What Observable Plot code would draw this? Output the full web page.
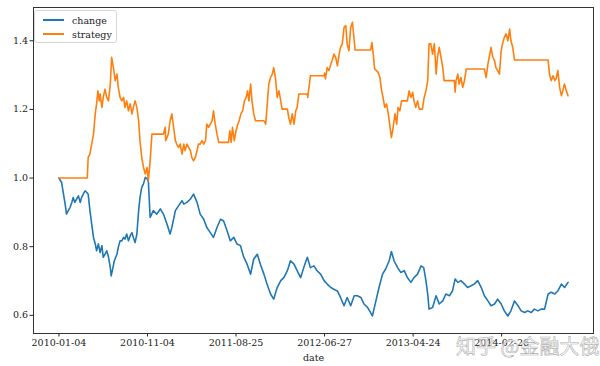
<!DOCTYPE html>
<html>
<head>
<meta charset="utf-8">
<script src="https://cdn.jsdelivr.net/npm/d3@7"></script>
<script src="https://cdn.jsdelivr.net/npm/@observablehq/plot@0.6"></script>
<style>
  html, body { margin: 0; padding: 0; background: #fff; }
  #wrap { position: relative; width: 600px; height: 366px; overflow: hidden; }
  #legend { position: absolute; left: 34px; top: 10px; width: 81px; height: 31px;
    border: 1px solid #d6d6d6; border-radius: 3px; background: rgba(255,255,255,0.8);
    font-family: "DejaVu Serif", serif; font-size: 9.5px; color: #222; }
  #legend .row { position: absolute; left: 8px; height: 12px; display: flex; align-items: center; }
  #legend .sw { width: 21px; height: 1.5px; margin-right: 8px; }
  #wm { position: absolute; left: 456px; top: 331px; font-family: "Noto Sans CJK SC", sans-serif;
    font-size: 20px; color: rgba(255,255,255,0.75); -webkit-text-stroke: 0.6px #b0b0b0; letter-spacing: 0px; }
</style>
</head>
<body>
<div id="wrap">
  <div id="chart"></div>
  <div id="legend"></div>
  <div id="wm">知乎 @金融大俄</div>
</div>
<script>
// series names and colours
const seriesNames = ["change", "strategy"];
const seriesColors = ["#1f77b4", "#ff7f0e"];

// x tick positions (row index) and their date labels
const tickIndex = [0, 200, 400, 600, 800, 1000];
const tickLabels = ["2010-01-04", "2010-11-04", "2011-08-25", "2012-06-27", "2013-04-24", "2014-02-26"];

// change: row index and value
const changeIdx = [0,6,14,17,21,25,29,32,36,40,44,48,51,55,59,63,66,70,74,78,82,85,89,93,97,100,104,108,112,116,118,122,125,131,134,138,142,146,149,153,157,161,165,168,172,176,180,183,187,191,195,199,202,206,213,221,229,236,244,251,255,263,270,278,282,289,297,304,312,319,327,334,342,349,357,365,372,380,387,395,402,410,417,425,433,440,448,455,463,470,478,485,493,501,508,516,523,531,538,546,553,561,568,576,583,591,599,606,614,621,629,636,644,651,659,667,674,682,689,697,704,708,716,723,731,738,746,751,757,765,772,780,787,795,802,810,818,824,829,833,836,844,852,859,867,874,882,889,895,901,908,916,923,931,938,946,954,961,969,976,984,991,999,1006,1014,1021,1029,1037,1044,1052,1059,1067,1074,1082,1089,1097,1105,1112,1120,1127,1135,1142,1150];
const changeVal = [1.0,0.987,0.924,0.895,0.905,0.914,0.929,0.943,0.929,0.939,0.948,0.929,0.943,0.953,0.963,0.958,0.953,0.905,0.866,0.827,0.808,0.788,0.808,0.783,0.803,0.769,0.778,0.788,0.769,0.739,0.715,0.739,0.759,0.778,0.798,0.817,0.817,0.827,0.822,0.837,0.817,0.832,0.841,0.827,0.812,0.837,0.905,0.943,0.973,0.983,1.002,0.998,0.99,0.885,0.905,0.895,0.910,0.895,0.866,0.837,0.856,0.905,0.919,0.934,0.924,0.929,0.939,0.953,0.929,0.895,0.880,0.856,0.841,0.827,0.856,0.880,0.875,0.846,0.817,0.827,0.808,0.803,0.771,0.749,0.720,0.764,0.778,0.749,0.720,0.691,0.662,0.647,0.681,0.701,0.710,0.730,0.759,0.749,0.730,0.710,0.739,0.769,0.739,0.744,0.730,0.720,0.701,0.691,0.681,0.676,0.671,0.652,0.628,0.652,0.628,0.657,0.657,0.652,0.633,0.623,0.608,0.598,0.642,0.681,0.720,0.735,0.759,0.786,0.759,0.739,0.725,0.730,0.710,0.696,0.710,0.720,0.744,0.739,0.701,0.662,0.618,0.623,0.657,0.633,0.642,0.662,0.657,0.671,0.706,0.696,0.701,0.691,0.681,0.686,0.691,0.701,0.681,0.657,0.642,0.628,0.633,0.647,0.633,0.613,0.598,0.613,0.642,0.628,0.613,0.608,0.613,0.608,0.618,0.613,0.618,0.618,0.662,0.667,0.662,0.671,0.691,0.681,0.696];

// strategy: row index and value
const strategyIdx = [0,64,66,70,74,78,82,85,88,91,93,97,100,104,108,112,116,119,123,127,131,134,138,142,146,149,153,157,161,165,168,172,176,180,183,187,191,195,199,202,206,210,236,240,241,247,251,255,259,263,266,270,274,278,282,285,289,293,297,300,304,308,312,315,319,323,327,331,334,338,342,346,349,353,357,361,383,386,389,392,396,400,404,407,411,415,419,423,426,429,433,436,440,444,463,467,470,474,478,482,485,489,493,497,501,504,516,519,523,527,531,535,538,542,561,562,568,599,600,602,606,610,614,617,621,625,629,633,636,640,644,648,651,655,659,663,667,669,704,707,710,713,717,721,725,729,732,736,740,744,747,751,755,759,763,766,770,774,787,791,795,799,802,806,810,814,821,825,829,833,836,840,844,848,852,855,859,863,867,870,893,895,897,901,904,908,912,916,920,961,965,969,972,976,980,984,987,991,995,999,1002,1006,1010,1014,1018,1021,1025,1029,1105,1108,1112,1116,1120,1123,1127,1131,1135,1138,1142,1146,1150];
const strategyVal = [1.0,1.0,1.060,1.070,1.099,1.128,1.187,1.216,1.254,1.225,1.245,1.206,1.235,1.259,1.235,1.225,1.274,1.352,1.322,1.284,1.303,1.264,1.235,1.225,1.235,1.206,1.225,1.196,1.216,1.187,1.206,1.225,1.206,1.167,1.109,1.060,1.031,1.012,1.031,0.992,1.050,1.128,1.128,1.148,1.109,1.128,1.167,1.187,1.148,1.109,1.099,1.089,1.099,1.070,1.099,1.080,1.099,1.089,1.080,1.060,1.050,1.060,1.080,1.099,1.099,1.109,1.099,1.109,1.157,1.148,1.157,1.167,1.196,1.157,1.128,1.104,1.104,1.138,1.104,1.148,1.109,1.138,1.157,1.167,1.187,1.196,1.225,1.235,1.254,1.225,1.274,1.225,1.187,1.167,1.167,1.157,1.206,1.274,1.293,1.303,1.322,1.293,1.235,1.254,1.225,1.201,1.201,1.177,1.157,1.187,1.157,1.196,1.206,1.245,1.245,1.235,1.298,1.298,1.306,1.289,1.322,1.313,1.332,1.342,1.361,1.352,1.327,1.361,1.381,1.391,1.439,1.444,1.391,1.371,1.439,1.454,1.400,1.373,1.373,1.395,1.361,1.318,1.313,1.308,1.293,1.254,1.235,1.206,1.216,1.187,1.157,1.118,1.148,1.187,1.157,1.206,1.196,1.225,1.225,1.254,1.235,1.250,1.225,1.206,1.225,1.201,1.201,1.235,1.254,1.284,1.391,1.391,1.361,1.391,1.303,1.352,1.381,1.352,1.322,1.284,1.284,1.250,1.284,1.303,1.274,1.293,1.264,1.284,1.318,1.318,1.293,1.332,1.352,1.381,1.352,1.342,1.322,1.313,1.303,1.371,1.391,1.410,1.420,1.400,1.434,1.400,1.381,1.344,1.344,1.303,1.284,1.298,1.284,1.289,1.313,1.264,1.240,1.254,1.274,1.254,1.240];

const yTicks = [0.6, 0.8, 1.0, 1.2, 1.4];

const rows = [
  ...changeIdx.map((i, k) => ({i, v: changeVal[k], s: seriesNames[0]})),
  ...strategyIdx.map((i, k) => ({i, v: strategyVal[k], s: seriesNames[1]}))
];

const n = changeIdx[changeIdx.length - 1];
const pad = 0.05 * n;

const chart = Plot.plot({
  width: 600,
  height: 366,
  marginLeft: 33,
  marginRight: 7,
  marginTop: 7,
  marginBottom: 33,
  style: {fontFamily: "DejaVu Serif, serif", fontSize: "9.5px", color: "#222", background: "#fff"},
  x: {domain: [-pad, n + pad], ticks: tickIndex, tickFormat: d => tickLabels[tickIndex.indexOf(d)],
      tickSize: 3.5, tickPadding: 2, label: "date", labelAnchor: "center", labelArrow: "none", labelOffset: 27},
  y: {domain: [0.547, 1.497], ticks: yTicks, tickFormat: d => d.toFixed(1), tickSize: 3.5, tickPadding: 2, label: null},
  color: {domain: seriesNames, range: seriesColors},
  marks: [
    Plot.lineY(rows, {x: "i", y: "v", z: "s", stroke: "s", strokeWidth: 1.6, curve: "linear"}),
    Plot.frame({stroke: "#333", strokeWidth: 1})
  ]
});
document.getElementById("chart").appendChild(chart);

const lg = document.getElementById("legend");
seriesNames.forEach((name, k) => {
  const row = document.createElement("div");
  row.className = "row";
  row.style.top = (3 + k * 14) + "px";
  row.innerHTML = `<span class="sw" style="background:${seriesColors[k]}"></span><span>${name}</span>`;
  lg.appendChild(row);
});
</script>
</body>
</html>
